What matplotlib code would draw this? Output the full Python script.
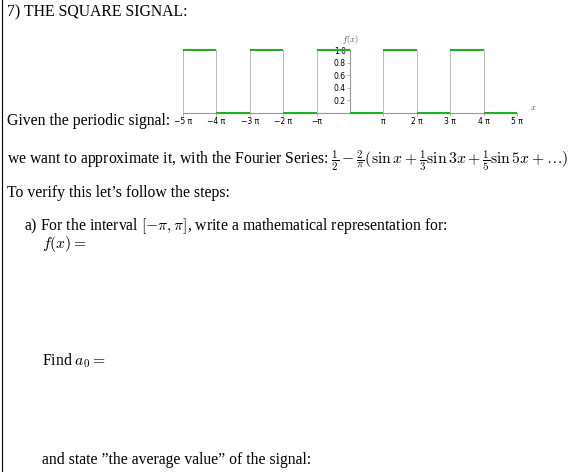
import numpy as np
import matplotlib
matplotlib.use("Agg")
import matplotlib.pyplot as plt

plt.rcParams['font.family'] = ['Liberation Serif', 'DejaVu Serif']
plt.rcParams['mathtext.fontset'] = 'cm'

# square wave: level on each pi-wide interval from -5pi to 5pi
edges = np.arange(-5, 6)  # in units of pi
levels = [1, 0, 1, 0, 1, 0, 1, 0, 1, 0]
tick_mult = [-5, -4, -3, -2, -1, 1, 2, 3, 4, 5]
tick_labels = ["−5 π", "−4 π", "−3 π", "−2 π", "−π", "π", "2 π", "3 π", "4 π", "5 π"]
ytick_vals = [0.2, 0.4, 0.6, 0.8, 1.0]

W, H = 584, 472
fig = plt.figure(figsize=(W / 100, H / 100), dpi=100)

def tx(x, y, s, **kw):
    fig.text(x / W, 1 - y / H, s, va='center', ha='left', fontsize=11.3, **kw)

fig.add_artist(plt.Line2D([2 / W, 2 / W], [0, 1], color='black', lw=0.8))

tx(7, 12, "7) THE SQUARE SIGNAL:")
tx(7, 121, "Given the periodic signal:")
tx(7, 161, r"we want to approximate it, with the Fourier Series: $\frac{1}{2}-\frac{2}{\pi}(\sin x+\frac{1}{3}\sin 3x+\frac{1}{5}\sin 5x+\ldots)$")
tx(7, 193, "To verify this let’s follow the steps:")
tx(24, 226, r"a) For the interval $[-\pi,\pi]$, write a mathematical representation for:")
tx(42, 244, r"$f(x) =$")
tx(42, 361, r"Find $a_0 =$")
tx(42, 460, "and state ”the average value” of the signal:")

x0, x1 = 183 / W, 517 / W
yb, yt = 1 - 113 / H, 1 - 50 / H
ax = fig.add_axes([x0, yb, x1 - x0, yt - yb])
ax.set_xlim(-5 * np.pi, 5 * np.pi)
ax.set_ylim(0, 1.0)
for i, lv in enumerate(levels):
    a, b = edges[i] * np.pi, edges[i + 1] * np.pi
    ax.plot([a, b], [lv, lv], color='#22b022', lw=1.5, solid_capstyle='butt', zorder=3, clip_on=False)
for e in edges:
    if e != 0:
        ax.axvline(e * np.pi, color='#bbbbbb', lw=0.7, zorder=1)
for s in ['top', 'right']:
    ax.spines[s].set_visible(False)
ax.spines['left'].set_position(('data', 0))
ax.spines['bottom'].set_color('#999999')
ax.spines['left'].set_color('#999999')
ax.set_xticks([m * np.pi for m in tick_mult])
ax.set_xticklabels(tick_labels, fontsize=5.5, family='DejaVu Sans')
ax.set_yticks(ytick_vals)
ax.set_yticklabels([f"{v:.1f}" for v in ytick_vals], fontsize=5.5, family='DejaVu Sans')
ax.tick_params(length=2, width=0.5, color='#999999', pad=1)
ax.patch.set_alpha(0)
ax.text(0, 1.12, r"$f(x)$", transform=ax.get_xaxis_transform(), fontsize=6, ha='center', color='#444444')
ax.text(1.04, 0.05, r"$x$", transform=ax.transAxes, fontsize=6, color='#444444')

fig.savefig("out.png", dpi=100)
